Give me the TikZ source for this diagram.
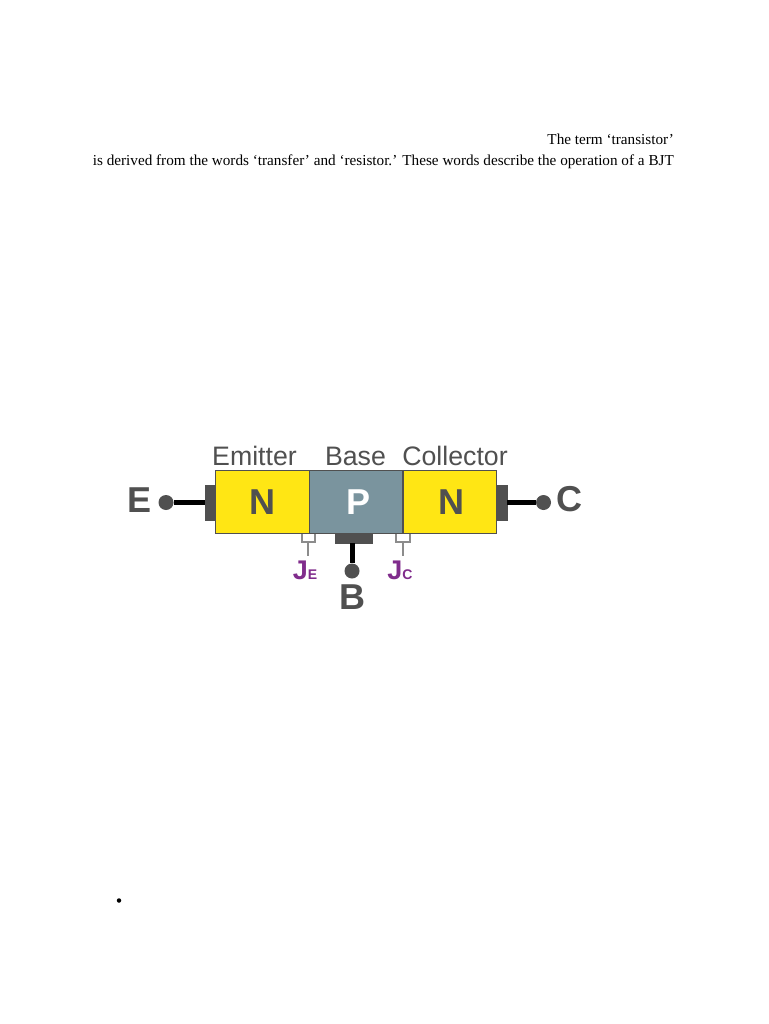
\documentclass[tikz,border=0pt]{standalone}
\usepackage{fontspec}
\setmainfont{Liberation Serif}
\setsansfont{Liberation Sans}
\definecolor{dopeN}{RGB}{255,230,20}
\definecolor{dopeP}{RGB}{122,148,158}
\definecolor{metal}{RGB}{80,80,80}
\definecolor{junct}{RGB}{128,44,140}
\tikzset{
  dope/.style={draw=metal, line width=1pt, minimum width=93.5pt, minimum height=62.5pt, inner sep=0pt, font=\sffamily\bfseries\fontsize{36}{36}\selectfont},
  tab/.style={fill=metal, draw=metal, line width=0.5pt, inner sep=0pt},
  term/.style={circle, fill=metal, minimum size=15pt, inner sep=0pt},
  pin/.style={text=metal, inner sep=0pt, font=\sffamily\bfseries\fontsize{36}{36}\selectfont},
  region/.style={text=metal, inner sep=0pt, font=\sffamily\fontsize{26.7}{26.7}\selectfont},
  wire/.style={line width=5pt, black},
  bracket/.style={draw=black!45, line width=1.2pt},
  jlabel/.style={text=junct, inner sep=0pt, font=\sffamily\bfseries\fontsize{27}{27}\selectfont},
  textline/.style={inner sep=0pt, font=\fontsize{15.2}{18}\selectfont}
}
\begin{document}
\begin{tikzpicture}[x=1pt, y=-1pt]
            \useasboundingbox[fill=white] (0,0) rectangle (768,1024);

            \node[textline, anchor=base east] (lineA) at (674,145) {The term ‘transistor’};
            \node[textline, anchor=base east] (lineB) at (674,165.5) {is derived from the words ‘transfer’ and ‘resistor.’ These words describe the operation of a BJT};

            \node (emit) [dope, fill=dopeN, text=metal] at (262.25,502) {N};
            \node (base) [dope, fill=dopeP, text=white] at (356,502) {\hspace{5pt}P};
            \node (coll) [dope, fill=dopeN, text=metal] at (450,502) {\hspace{2pt}N};

            \node (tabE) [tab, minimum width=10pt, minimum height=35pt] at (210,502.5) {};
            \node (tabC) [tab, minimum width=10pt, minimum height=35pt] at (502,502.5) {};
            \node (tabB) [tab, minimum width=37pt, minimum height=10pt] at (353.5,538) {};

            \node (termE) [term] at (166,502.5) {};
            \node (termC) [term] at (543.5,502.5) {};
            \node (termB) [term] at (352,571) {};

            \draw[wire] (tabE.west) -- (termE.east);
            \draw[wire] (tabC.east) -- (termC.west);
            \draw[wire] (tabB.south -| termB) -- (termB.north);

            \node (pinE) [pin] at (139.5,500) {E};
            \node (pinC) [pin] at (569,499) {C};
            \node (pinB) [pin] at (352.5,597) {B};

            \node (nameE) [region] at (254.5,456) {Emitter};
            \node (nameB) [region] at (355.5,456) {Base};
            \node (nameC) [region] at (455,456) {Collector};

            \coordinate (stemE) at (308,556);
            \coordinate (stemC) at (403,556);
            \draw[bracket] (302,534) -- (302,542) -- (315,542) -- (315,534);
            \draw[bracket] (396,534) -- (396,542) -- (410,542) -- (410,534);
            \draw[bracket] (308,542) -- (stemE);
            \draw[bracket] (403,542) -- (stemC);

            \node (labJE) [jlabel] at (305,570) {J\fontsize{14}{14}\selectfont E};
            \node (labJC) [jlabel] at (400,570) {J\fontsize{14}{14}\selectfont C};

            \node (dot) [circle, fill=black, minimum size=4.5pt, inner sep=0pt] at (119,900.5) {};
        \end{tikzpicture}
\end{document}
